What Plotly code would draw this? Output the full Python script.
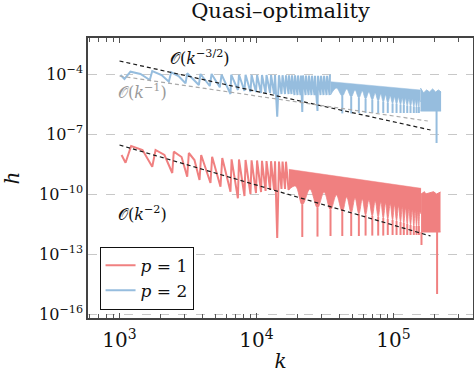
import plotly.graph_objects as go

# ---------------- data (log10 values) ----------------
# p = 1 : sparse saw-teeth (log10 k, log10 h)
p1_teeth_lgk = [3.015, 3.044, 3.085, 3.168, 3.239, 3.263, 3.328, 3.385, 3.396, 3.453,
                3.494, 3.506, 3.547, 3.584, 3.596, 3.664, 3.676, 3.737, 3.750, 3.810,
                3.818, 3.864, 3.872, 3.912, 3.920, 3.956, 3.964, 3.996, 4.004, 4.033,
                4.040, 4.066, 4.073, 4.099, 4.106, 4.128, 4.135, 4.151, 4.164, 4.182,
                4.190, 4.208, 4.215, 4.234]
p1_teeth_lgh = [-8.05, -8.435, -7.60, -7.80, -8.635, -7.80, -8.05, -8.95, -7.885, -8.15,
                -9.135, -7.95, -8.30, -9.30, -8.05, -9.45, -8.135, -9.635, -8.20, -9.885,
                -8.265, -10.215, -8.275, -10.10, -8.30, -10.00, -8.315, -9.95, -8.325, -9.90,
                -8.34, -9.85, -8.35, -9.80, -8.36, -9.80, -8.365, -12.20, -8.375, -9.75,
                -8.38, -9.75, -8.385, -9.80]

# positions of the deep dips (shared by both series)
dip_lgk = [4.334, 4.445, 4.540, 4.626, 4.691, 4.747, 4.796, 4.845, 4.888, 4.925,
           4.958, 4.993, 5.022, 5.051, 5.075, 5.100, 5.124, 5.148, 5.168, 5.185]

# p = 1 : dense band
p1_band_top_lgk = [4.236, 5.201]
p1_band_top_lgh = [-8.765, -9.715]
p1_band_start = [4.234, -9.80]
p1_band_end = [5.201, -11.00]
p1_arch_lgk = [4.284, 4.390, 4.493, 4.583, 4.658, 4.719, 4.772, 4.820, 4.866, 4.907,
               4.942, 4.976, 5.007, 5.036, 5.064, 5.088, 5.112, 5.137, 5.158, 5.177, 5.193]
p1_arch_lgh = [-9.6, -9.75, -9.9, -10.05, -10.15, -10.2, -10.25, -10.3, -10.35, -10.4,
               -10.45, -10.5, -10.55, -10.6, -10.65, -10.7, -10.75, -10.8, -10.85, -10.9, -10.9]
p1_shoulder_lgh = [-10.55, -10.7, -10.8, -10.9, -10.95, -11.0, -11.05, -11.1, -11.15, -11.2,
                   -11.25, -11.3, -11.35, -11.4, -11.45, -11.5, -11.55, -11.6, -11.6, -11.6]
p1_dip_bottom_lgh = [-12.15, -12.13, -12.1, -12.1, -12.1, -12.1, -12.08, -12.08, -12.08, -12.08,
                     -12.05, -12.05, -12.05, -12.05, -12.05, -12.05, -12.05, -12.05, -12.05, -12.05]
# p = 1 : tail block
p1_tail_top_lgk = [5.201, 5.226, 5.234, 5.270, 5.292, 5.314, 5.343]
p1_tail_top_lgh = [-10.0, -9.885, -10.0, -9.95, -9.885, -10.0, -9.9]
p1_tail_bot_lgk = [5.201, 5.343]
p1_tail_bot_lgh = [-11.9, -11.9]
p1_tail_spike_lgk = [5.204, 5.318]
p1_tail_spike_top_lgh = [-11.9, -11.9]
p1_tail_spike_bot_lgh = [-12.55, -15.0]

# p = 2 : saw-teeth
p2_teeth_lgk = [3.007, 3.036, 3.080, 3.153, 3.221, 3.239, 3.307, 3.360, 3.377, 3.431,
                3.482, 3.494, 3.579, 3.591, 3.659, 3.672, 3.732, 3.745, 3.810, 3.815,
                3.864, 3.872, 3.912, 3.920, 3.956, 3.964, 3.996, 4.004, 4.033, 4.040,
                4.066, 4.073, 4.099, 4.106, 4.128, 4.135, 4.151, 4.164, 4.182, 4.190,
                4.208, 4.215, 4.234, 4.237, 4.255, 4.259, 4.277, 4.281, 4.299, 4.303,
                4.321, 4.325, 4.334, 4.339, 4.358, 4.361, 4.380, 4.383, 4.401, 4.405,
                4.423, 4.427, 4.445, 4.449, 4.467, 4.471, 4.489, 4.493, 4.511, 4.515,
                4.533, 4.536]
p2_teeth_lgh = [-4.05, -4.25, -3.885, -4.00, -4.30, -3.85, -4.05, -4.385, -3.915, -4.10,
                -4.465, -3.965, -4.55, -4.00, -4.60, -4.00, -4.665, -4.035, -5.00, -4.035,
                -4.80, -4.04, -4.85, -4.04, -4.90, -4.045, -4.90, -4.05, -4.95, -4.05,
                -4.95, -4.05, -4.95, -4.05, -5.00, -4.05, -6.135, -4.06, -5.00, -4.06,
                -5.00, -4.065, -5.00, -4.065, -5.00, -4.07, -5.05, -4.07, -5.05, -4.075,
                -5.05, -4.075, -5.90, -4.075, -5.05, -4.08, -5.05, -4.08, -5.05, -4.085,
                -5.05, -4.085, -5.85, -4.09, -5.05, -4.09, -5.05, -4.095, -5.05, -4.095,
                -5.05, -4.025]
# p = 2 : dense band (dips are dip_lgk[3:])
p2_band_top_lgk = [4.540, 5.197]
p2_band_top_lgh = [-4.385, -4.80]
p2_band_start = [4.540, -5.05]
p2_band_end = [5.197, -5.40]
p2_arch_lgk = [4.583, 4.658, 4.719, 4.772, 4.820, 4.866, 4.907, 4.942, 4.976, 5.007,
               5.036, 5.064, 5.088, 5.112, 5.137, 5.158, 5.177, 5.191]
p2_arch_lgh = [-4.7, -4.75, -4.8, -4.85, -4.9, -4.95, -5.0, -5.05, -5.1, -5.15,
               -5.175, -5.2, -5.225, -5.25, -5.275, -5.3, -5.3, -5.3]
p2_shoulder_lgh = [-5.1, -5.15, -5.2, -5.25, -5.3, -5.35, -5.4, -5.45, -5.475, -5.5,
                   -5.525, -5.55, -5.575, -5.6, -5.625, -5.65, -5.65]
p2_dip_bottom_lgh = [-5.97, -5.97, -5.95, -5.95, -5.95, -5.95, -5.95, -5.95, -5.95, -5.95,
                     -5.95, -5.95, -5.95, -5.95, -5.95, -5.95, -5.95]
# p = 2 : tail block
p2_tail_top_lgk = [5.197, 5.219, 5.241, 5.263, 5.285, 5.307, 5.328, 5.347]
p2_tail_top_lgh = [-4.7, -4.95, -4.8, -4.9, -4.75, -4.9, -4.8, -4.9]
p2_tail_bot_lgk = [5.197, 5.347]
p2_tail_bot_lgh = [-5.85, -5.85]
p2_tail_spike_lgk = [5.314]
p2_tail_spike_top_lgh = [-5.85]
p2_tail_spike_bot_lgh = [-7.45]

# reference rates (end points)
rate32_lgk = [3.0, 5.27]
rate32_lgh = [-3.35, -6.8]
rate1_lgk = [3.0, 5.25]
rate1_lgh = [-4.1, -6.35]
rate2_lgk = [3.0, 5.27]
rate2_lgh = [-7.55, -12.1]

y_tick_exp = [-4, -7, -10, -13, -16]

# ---------------- styling ----------------
RED = "#F08080"
BLUE = "#96BDDE"
FONT = "DejaVu Serif"


def P(v):
    return [None if a is None else 10 ** a for a in v]


def scallop(start, ak, ah, dk, sh, end):
    xs, ys = [start[0]], [start[1]]
    for i in range(len(dk)):
        xs += [ak[i], dk[i]]
        ys += [ah[i], sh[i]]
    xs += [ak[-1], end[0]]
    ys += [ah[-1], end[1]]
    return xs, ys


def spikes(k, top, bot):
    xs, ys = [], []
    for a, b, c in zip(k, top, bot):
        xs += [a, a, None]
        ys += [b, c, None]
    return xs, ys


fig = go.Figure()


def add_series(color, name, tk, th, btk, bth, bstart, bend, ak, ah, dk, sh, db,
               ttk, tth, tbk, tbh, sk, st, sb):
    fig.add_trace(go.Scatter(x=P(tk), y=P(th), mode="lines", name=name,
                             line=dict(color=color, width=2), showlegend=True))
    # band
    fig.add_trace(go.Scatter(x=P(btk), y=P(bth), mode="lines",
                             line=dict(color=color, width=0.5), showlegend=False))
    lx, ly = scallop(bstart, ak, ah, dk, sh, bend)
    fig.add_trace(go.Scatter(x=P(lx), y=P(ly), mode="lines", fill="tonexty",
                             fillcolor=color,
                             line=dict(color=color, width=0.8, shape="spline", smoothing=1.0),
                             showlegend=False))
    sx, sy = spikes(dk, sh, db)
    fig.add_trace(go.Scatter(x=P(sx), y=P(sy), mode="lines",
                             line=dict(color=color, width=2), showlegend=False))
    # tail
    fig.add_trace(go.Scatter(x=P(ttk), y=P(tth), mode="lines",
                             line=dict(color=color, width=1), showlegend=False))
    fig.add_trace(go.Scatter(x=P(tbk), y=P(tbh), mode="lines", fill="tonexty",
                             fillcolor=color, line=dict(color=color, width=1),
                             showlegend=False))
    sx, sy = spikes(sk, st, sb)
    fig.add_trace(go.Scatter(x=P(sx), y=P(sy), mode="lines",
                             line=dict(color=color, width=2), showlegend=False))


add_series(RED, "<i>p</i> = 1", p1_teeth_lgk, p1_teeth_lgh, p1_band_top_lgk, p1_band_top_lgh,
           p1_band_start, p1_band_end, p1_arch_lgk, p1_arch_lgh, dip_lgk, p1_shoulder_lgh,
           p1_dip_bottom_lgh, p1_tail_top_lgk, p1_tail_top_lgh, p1_tail_bot_lgk, p1_tail_bot_lgh,
           p1_tail_spike_lgk, p1_tail_spike_top_lgh, p1_tail_spike_bot_lgh)
add_series(BLUE, "<i>p</i> = 2", p2_teeth_lgk, p2_teeth_lgh, p2_band_top_lgk, p2_band_top_lgh,
           p2_band_start, p2_band_end, p2_arch_lgk, p2_arch_lgh, dip_lgk[3:], p2_shoulder_lgh,
           p2_dip_bottom_lgh, p2_tail_top_lgk, p2_tail_top_lgh, p2_tail_bot_lgk, p2_tail_bot_lgh,
           p2_tail_spike_lgk, p2_tail_spike_top_lgh, p2_tail_spike_bot_lgh)

for lk, lh, col in [(rate32_lgk, rate32_lgh, "#1a1a1a"),
                    (rate1_lgk, rate1_lgh, "#aaaaaa"),
                    (rate2_lgk, rate2_lgh, "#1a1a1a")]:
    fig.add_trace(go.Scatter(x=P(lk), y=P(lh), mode="lines", showlegend=False,
                             line=dict(color=col, width=1.2, dash="4px,3px")))

ann_font = dict(family=FONT, size=16)
fig.add_annotation(x=3.59, y=-3.15, xref="x", yref="y", showarrow=False,
                   text="𝒪(<i>k</i><sup>−3/2</sup>)", font=dict(ann_font, color="#111"))
fig.add_annotation(x=3.17, y=-4.85, xref="x", yref="y", showarrow=False,
                   text="𝒪(<i>k</i><sup>−1</sup>)", font=dict(ann_font, color="#9a9a9a"))
fig.add_annotation(x=3.17, y=-10.95, xref="x", yref="y", showarrow=False,
                   text="𝒪(<i>k</i><sup>−2</sup>)", font=dict(ann_font, color="#111"))

fig.update_layout(
    width=474, height=373, autosize=False,
    margin=dict(l=88, r=1, t=38, b=55),
    paper_bgcolor="white", plot_bgcolor="white",
    font=dict(family=FONT, size=16, color="#111"),
    title=dict(text="Quasi–optimality", xref="paper", x=0.5, xanchor="center",
               yref="container", y=0.99, yanchor="top",
               font=dict(family=FONT, size=21, color="#111")),
    showlegend=True,
    legend=dict(x=0.03, y=0.03, xanchor="left", yanchor="bottom", traceorder="normal",
                bgcolor="white", bordercolor="#111", borderwidth=1,
                font=dict(family=FONT, size=17), itemwidth=30, tracegroupgap=0),
)
fig.update_xaxes(type="log", range=[2.77, 5.58], dtick=1, exponentformat="power",
                 automargin=False,
                 showgrid=False, zeroline=False, showline=True, mirror="ticks",
                 linecolor="#444", linewidth=1.5, ticks="inside", ticklen=5,
                 tickcolor="#555", tickfont=dict(family=FONT, size=16),
                 ticklabelstandoff=4,
                 minor=dict(ticks="inside", ticklen=4, tickcolor="#555", dtick="D1",
                            showgrid=False),
                 title=dict(text="<i>k</i>", font=dict(family=FONT, size=20), standoff=8))
fig.update_yaxes(type="log", range=[-16.2, -2.2], automargin=False,
                 tickvals=[10 ** e for e in y_tick_exp],
                 ticktext=["10<sup>−%d</sup>" % (-e) for e in y_tick_exp],
                 showgrid=True, gridcolor="#c8c8c8", griddash="dash", gridwidth=1,
                 zeroline=False, showline=True, mirror=True, linecolor="#444", linewidth=1.5,
                 ticks="", tickfont=dict(family=FONT, size=16),
                 title=dict(text="<i>h</i>", font=dict(family=FONT, size=20), standoff=24))

fig.write_html("out.html", config={"responsive": False, "displayModeBar": False},
               post_script="document.body.style.margin='0px';document.body.style.padding='0px';")
